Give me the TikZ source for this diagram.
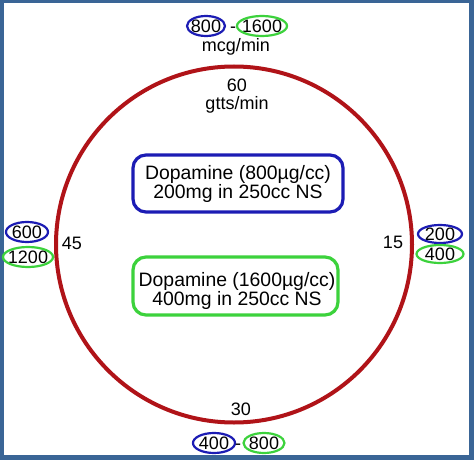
\documentclass[tikz,border=0pt]{standalone}
\usepackage{fontspec}
\setmainfont{Liberation Sans}
\usetikzlibrary{shapes.geometric}
\definecolor{frameblue}{HTML}{3A6596}
\definecolor{ringred}{HTML}{B01318}
\definecolor{ovblue}{HTML}{1C1CB4}
\definecolor{ovgreen}{HTML}{3CD23C}
\tikzset{
  lbl/.style={font=\fontsize{18}{20}\selectfont, inner sep=0pt},
  num/.style={lbl, text height=12.9pt, text depth=0pt},
  boxtxt/.style={font=\fontsize{19.4}{18.5}\selectfont, align=center, inner sep=0pt},
  infobox/.style={draw, line width=3.2pt, rounded corners=13pt, minimum width=#1},
  oval/.style={line width=2.2pt},
}
\begin{document}
\begin{tikzpicture}[x=1pt,y=-1pt]
\useasboundingbox (0,0) rectangle (474,460);
% frame
\fill[frameblue] (0,0) rectangle (474,460);
\fill[white] (3.5,3.5) rectangle (469,455);
% ring
\node[draw=ringred, line width=4pt, circle, minimum size=356pt, inner sep=0pt] (ring) at (234,244.5) {};
% inner texts
\node[num] (sixty) at (237,85) {60};
\node[lbl] (gtts) at (237,105) {gtts/min};
\node[num] (fifteen) at (393,242) {15};
\node[num] (fortyfive) at (72,243) {45};
\node[num] (thirty) at (241,409) {30};
% top
\node[num] (t800) at (206,26) {800};
\draw[ovblue, oval] (t800) ellipse (19pt and 10pt);
\node[num] (tdash) at (233,26) {-};
\node[num] (t1600) at (262,26) {1600};
\draw[ovgreen, oval] (t1600) ellipse (25pt and 10pt);
\node[lbl] (mcg) at (236,47) {mcg/min};
% left
\node[num] (l600) at (27,232) {600};
\draw[ovblue, oval] (l600) ellipse (21pt and 10pt);
\node[num] (l1200) at (28,257) {1200};
\draw[ovgreen, oval] (l1200) ellipse (25pt and 10pt);
% right
\node[num] (r200) at (440,234) {200};
\draw[ovblue, oval] (r200) ellipse (22pt and 9pt);
\node[num] (r400) at (440,254) {400};
\draw[ovgreen, oval] (r400) ellipse (23.5pt and 9pt);
% bottom
\node[num] (b400) at (214,443) {400};
\draw[ovblue, oval] (b400) ellipse (21pt and 10pt);
\node[num] (bdash) at (238,443) {-};
\node[num] (b800) at (264,443) {800};
\draw[ovgreen, oval] (b800) ellipse (20.5pt and 10pt);
% boxes
\node[infobox=210pt, draw=ovblue, minimum height=57pt, fill=white] (bluebox) at (238,183.5) {};
\node[boxtxt] (bluetxt) at (238,184) {Dopamine (800µg/cc)\\200mg in 250cc NS};
\node[infobox=205pt, draw=ovgreen, minimum height=58pt] (greenbox) at (235.5,286) {};
\node[boxtxt] (greentxt) at (237,291) {Dopamine (1600µg/cc)\\400mg in 250cc NS};
\end{tikzpicture}
\end{document}
